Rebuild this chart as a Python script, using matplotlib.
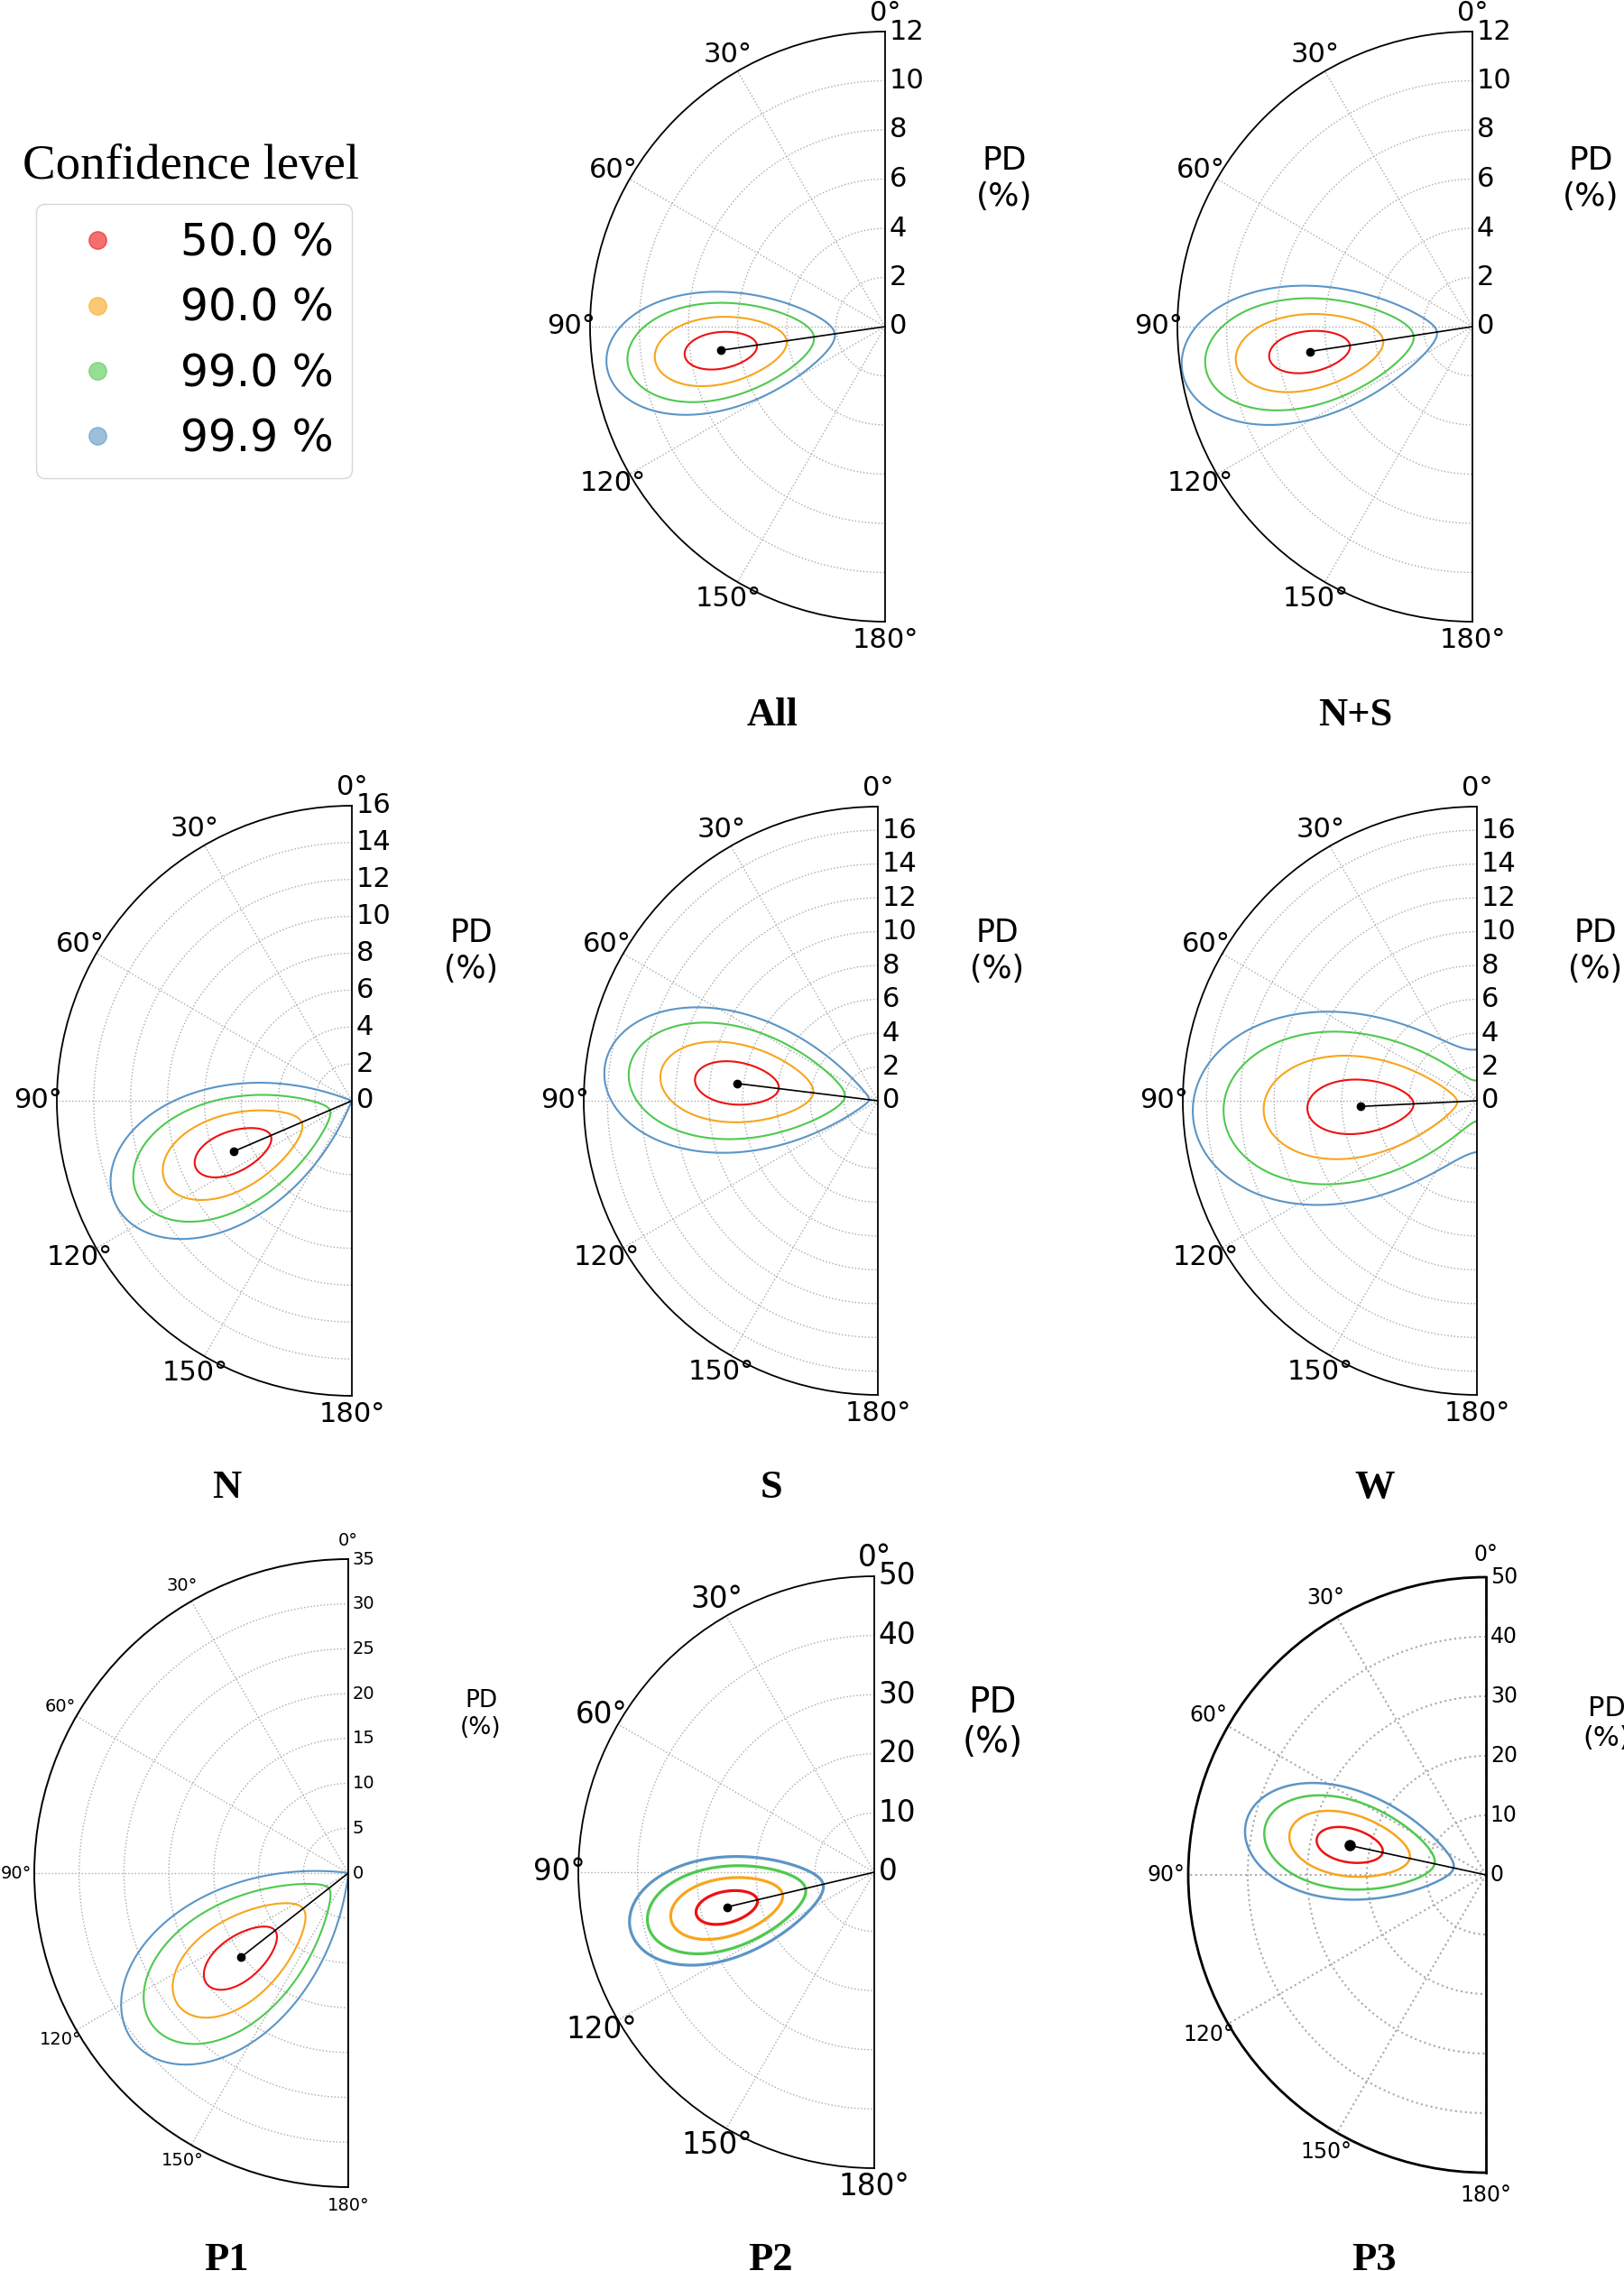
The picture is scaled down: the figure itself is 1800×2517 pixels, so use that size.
import numpy as np
import matplotlib
matplotlib.use('Agg')
import matplotlib.pyplot as plt
from matplotlib.lines import Line2D

names = ['All', 'N+S', 'N', 'S', 'W', 'P1', 'P2', 'P3']
pd_best = [6.75, 6.70, 7.0, 8.4, 6.9, 15.2, 25.6, 23.4]        # PD (%)
pa_best = [98.2, 98.7, 113.2, 83.0, 92.8, 128.1, 103.3, 77.8]  # PA (deg)
pd_err = [1.26, 1.41, 1.88, 2.12, 2.67, 4.1, 4.5, 4.8]         # 1 sigma in Q/U (%)
r_max = [12, 12, 16, 17.4, 17.4, 35, 50, 50]
r_ticks = [list(range(0, 13, 2)), list(range(0, 13, 2)),
           list(range(0, 17, 2)), list(range(0, 17, 2)), list(range(0, 17, 2)),
           list(range(0, 36, 5)), list(range(0, 51, 10)), list(range(0, 51, 10))]

conf_levels = [50.0, 90.0, 99.0, 99.9]
conf_colors = ['#ee1111', '#f8a51c', '#4fc94f', '#5b95c6']

# layout in pixels of the 1800x2517 picture
W, H = 1800, 2517
origin_px = [(981, 362, 327), (1632, 362, 327),
             (390, 1220, 327), (973, 1220, 326), (1637, 1220, 326),
             (386, 2076, 348), (969, 2075, 328), (1647, 2078, 330)]
title_px = [(856, 804), (1502, 804), (251, 1660), (855, 1660), (1524, 1660),
            (251, 2516), (854, 2516), (1523, 2516)]
pdlab_px = [(1113, 198), (1763, 198), (522, 1054), (1105, 1054), (1768, 1054),
            (533, 1900), (1100, 1909), (1781, 1910)]
tick_fs = [22, 22, 22, 22, 22, 14, 23.5, 17]
theta_pad = [8, 8, 8, 8, 8, 7.5, 8, 11]
pdlab_fs = [26, 26, 25, 25, 25, 19, 28, 22]
contour_lw = [1.5, 1.5, 1.5, 1.5, 1.5, 1.5, 2.3, 1.8]
spine_lw = [1.3, 1.3, 1.3, 1.3, 1.3, 1.4, 1.3, 2.0]
grid_lw = [1.0, 1.0, 1.0, 1.0, 1.0, 1.0, 1.0, 1.5]
dot_ms = [6, 6, 6, 6, 6, 6, 6, 8]

fig = plt.figure(figsize=(W / 100, H / 100), dpi=100)

chi2_levels = [-2 * np.log(1 - c / 100) for c in conf_levels]

for i, name in enumerate(names):
    x0, y0, R = origin_px[i]
    ax = fig.add_axes([(x0 - 1.5 * R) / W, (H - y0 - R) / H, 2 * R / W, 2 * R / H],
                      projection='polar')
    ax.set_theta_zero_location('N')
    ax.set_thetamin(0)
    ax.set_thetamax(180)
    ax.set_rlim(0, r_max[i])
    ax.set_rticks(r_ticks[i])
    ax.set_thetagrids(range(0, 181, 30))
    ax.tick_params(axis='both', labelsize=tick_fs[i], length=0)
    ax.tick_params(axis='x', pad=theta_pad[i])
    ax.grid(True, linestyle=':', color='#aaaaaa', linewidth=grid_lw[i])
    for s in ax.spines.values():
        s.set_linewidth(spine_lw[i])
        s.set_color('black')

    # confidence contours from the Q/U likelihood, PA on the polar angle
    th = np.linspace(0, np.pi, 721)
    rr = np.linspace(0, r_max[i], 500)
    T, RR = np.meshgrid(th, rr)
    q0 = pd_best[i] * np.cos(2 * np.radians(pa_best[i]))
    u0 = pd_best[i] * np.sin(2 * np.radians(pa_best[i]))
    chi2 = ((RR * np.cos(2 * T) - q0) ** 2 + (RR * np.sin(2 * T) - u0) ** 2) / pd_err[i] ** 2
    ax.contour(T, RR, chi2, levels=chi2_levels, colors=conf_colors,
               linewidths=contour_lw[i])

    pa_rad = np.radians(pa_best[i])
    ax.plot([pa_rad, pa_rad], [0, pd_best[i]], color='black', linewidth=1.2)
    ax.plot([pa_rad], [pd_best[i]], 'o', color='black', markersize=dot_ms[i])

    tx, ty = title_px[i]
    fig.text(tx / W, 1 - ty / H, name, ha='center', va='baseline',
             family='Liberation Serif', weight='bold', fontsize=32)
    px, py = pdlab_px[i]
    fig.text(px / W, 1 - py / H, 'PD\n(%)', ha='center', va='center',
             multialignment='center', fontsize=pdlab_fs[i])

# legend
handles = [Line2D([0], [0], marker='o', linestyle='', color=c, alpha=0.6,
                  markersize=14) for c in conf_colors]
labels = [f'{c:.1f} %' for c in conf_levels]
fig.legend(handles, labels, loc='upper left', bbox_to_anchor=(40 / W, 1 - 226 / H),
           borderaxespad=0, fontsize=35, handletextpad=0.9)
fig.text(212 / W, 1 - 185 / H, 'Confidence level', ha='center', va='center',
         family='Liberation Serif', fontsize=39.5)

fig.savefig('out.png', dpi=100)
